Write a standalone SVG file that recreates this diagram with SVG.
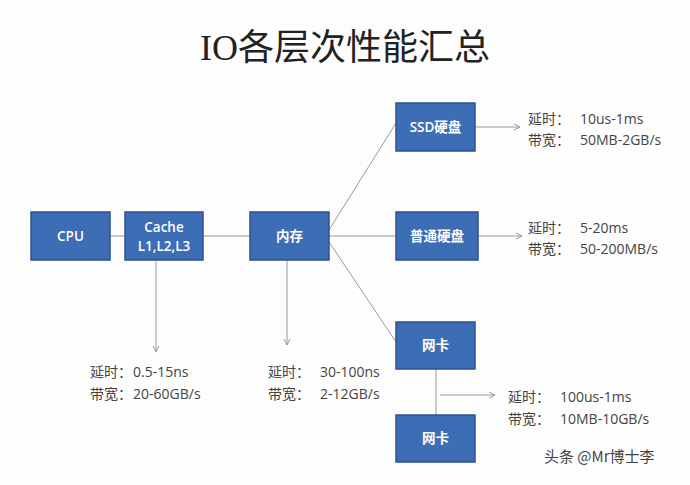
<svg xmlns="http://www.w3.org/2000/svg" width="690" height="485" viewBox="0 0 690 485">
<style>
.n{fill:#3d6db5;stroke:#2b538f;stroke-width:1.5}
.t{fill:#fff;font-family:"Open Sans","Noto Sans CJK SC",sans-serif;font-size:13.5px;font-weight:600;text-anchor:middle}
.l{fill:#444;font-family:"Open Sans","Noto Sans CJK SC",sans-serif;font-size:14px}
.c{stroke:#999;stroke-width:1;fill:none}
.a{stroke:#999;stroke-width:1;fill:none;marker-end:url(#ar)}
</style>
<defs><marker id="ar" markerWidth="8" markerHeight="8" refX="7" refY="4" orient="auto" markerUnits="userSpaceOnUse"><path d="M1,1 L7,4 L1,7" fill="none" stroke="#999"/></marker></defs>
<rect width="690" height="485" fill="#fdfdfd"/>
<text x="345" y="60" text-anchor="middle" font-family="'Liberation Serif','Noto Sans CJK SC',serif" font-size="36" fill="#222">IO各层次性能汇总</text>
<g id="connectors">
<line class="c" x1="110" y1="236" x2="125" y2="236"/>
<line class="c" x1="203" y1="236" x2="250" y2="236"/>
<line class="c" x1="329" y1="236" x2="396" y2="236"/>
<line class="c" x1="329" y1="230" x2="396" y2="123"/>
<line class="c" x1="329" y1="242" x2="396" y2="342"/>
<line class="c" x1="436" y1="369" x2="436" y2="415"/>
<line class="a" x1="156" y1="260" x2="156" y2="352"/>
<line class="a" x1="287" y1="260" x2="287" y2="345"/>
<line class="a" x1="475" y1="127" x2="520" y2="127"/>
<line class="a" x1="478" y1="236" x2="522" y2="236"/>
<line class="a" x1="440" y1="395" x2="495" y2="395"/>
</g>
<g id="cpu"><rect class="n" x="31" y="212" width="79" height="48"/><text class="t" x="70.5" y="241">CPU</text></g>
<g id="cache"><rect class="n" x="125" y="212" width="78" height="48"/><text class="t" x="164" y="232">Cache</text><text class="t" x="164" y="251">L1,L2,L3</text></g>
<g id="mem"><rect class="n" x="250" y="212" width="79" height="48"/><text class="t" x="289.5" y="241">内存</text></g>
<g id="ssd"><rect class="n" x="396" y="103" width="79" height="48"/><text class="t" x="435.5" y="132">SSD硬盘</text></g>
<g id="hdd"><rect class="n" x="396" y="212" width="82" height="48"/><text class="t" x="437" y="241">普通硬盘</text></g>
<g id="nic1"><rect class="n" x="396" y="322" width="79" height="47"/><text class="t" x="435.5" y="350">网卡</text></g>
<g id="nic2"><rect class="n" x="396" y="415" width="79" height="47"/><text class="t" x="435.5" y="443">网卡</text></g>
<g id="labels">
<text class="l" x="90" y="377">延时：</text><text class="l" x="133" y="377">0.5-15ns</text>
<text class="l" x="90" y="399">带宽：</text><text class="l" x="133" y="399">20-60GB/s</text>
<text class="l" x="268" y="377">延时：</text><text class="l" x="320" y="377">30-100ns</text>
<text class="l" x="268" y="399">带宽：</text><text class="l" x="320" y="399">2-12GB/s</text>
<text class="l" x="528" y="124">延时：</text><text class="l" x="580" y="124">10us-1ms</text>
<text class="l" x="528" y="145">带宽：</text><text class="l" x="580" y="145">50MB-2GB/s</text>
<text class="l" x="528" y="233">延时：</text><text class="l" x="580" y="233">5-20ms</text>
<text class="l" x="528" y="254">带宽：</text><text class="l" x="580" y="254">50-200MB/s</text>
<text class="l" x="508" y="402">延时：</text><text class="l" x="560" y="402">100us-1ms</text>
<text class="l" x="508" y="424">带宽：</text><text class="l" x="560" y="424">10MB-10GB/s</text>
</g>
<text x="544" y="462" font-family="'Noto Sans CJK SC',sans-serif" font-size="15" fill="#444">头条 @Mr博士李</text>
</svg>
